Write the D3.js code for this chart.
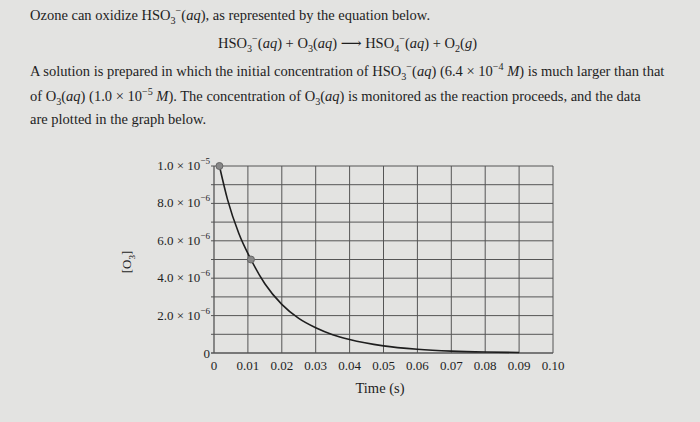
<!DOCTYPE html>
<html>
<head>
<meta charset="utf-8">
<script src="https://cdn.jsdelivr.net/npm/d3@7"></script>
<style>
  body { margin:0; background:#e3e3e1; }
  svg { font-family:"Liberation Serif", "DejaVu Serif", serif; }
</style>
</head>
<body>
<svg id="chart" width="700" height="422"></svg>
<script>
// data (time in s, [O3] in M)
const times = [0.0016, 0.004, 0.0073, 0.0109, 0.015, 0.02, 0.025, 0.03, 0.035, 0.04, 0.05, 0.06, 0.07, 0.08, 0.09];
const conc  = [10e-6, 8.2e-6, 6.4e-6, 5.0e-6, 3.7e-6, 2.6e-6, 1.85e-6, 1.35e-6, 0.98e-6, 0.72e-6, 0.38e-6, 0.2e-6, 0.1e-6, 0.05e-6, 0.03e-6];
const markedPoints = [0, 3]; // indices with circle markers
const xTicks = [0, 0.01, 0.02, 0.03, 0.04, 0.05, 0.06, 0.07, 0.08, 0.09, 0.10];
const yGrid = d3.range(0, 11).map(d => d * 1e-6);
const yLabels = [[2e-6, "2.0", "−6"], [4e-6, "4.0", "−6"], [6e-6, "6.0", "−6"], [8e-6, "8.0", "−6"], [10e-6, "1.0", "−5"]];

const svg = d3.select("#chart");
const ink = "#1e1e1e";

//text helper: parts = [text, kind] with kind "" / "sub" / "sup" / "i"
function rich(x, y, parts, anchor, size){
    size = size || 14.5;
    const t = svg.append("text").attr("x", x).attr("y", y)
        .attr("font-size", size).attr("fill", ink).attr("text-anchor", anchor || "start");
    let off = 0; // current baseline shift
    parts.forEach(([s, k]) => {
        const target = k == "sub" ? 4 : k == "sup" ? -6 : 0;
        const sp = t.append("tspan").text(s).attr("dy", target - off);
        off = target;
        if(k == "sub" || k == "sup") sp.attr("font-size", size * 0.7);
        if(k == "i") sp.attr("font-style", "italic");
    });
    return t;
}

rich(30, 20, [["Ozone can oxidize HSO",""],["3","sub"],["−","sup"],["(",""],["aq","i"],["), as represented by the equation below.",""]]);
rich(218, 48, [["HSO",""],["3","sub"],["−","sup"],["(",""],["aq","i"],[") + O",""],["3","sub"],["(",""],["aq","i"],[")  ⟶  HSO",""],["4","sub"],["−","sup"],["(",""],["aq","i"],[") + O",""],["2","sub"],["(",""],["g","i"],[")",""]]);
rich(30, 76, [["A solution is prepared in which the initial concentration of HSO",""],["3","sub"],["−","sup"],["(",""],["aq","i"],[") (6.4 × 10",""],["−4","sup"],[" M","i"],[") is much larger than that",""]]);
rich(30, 101, [["of O",""],["3","sub"],["(",""],["aq","i"],[") (1.0 × 10",""],["−5","sup"],[" M","i"],["). The concentration of O",""],["3","sub"],["(",""],["aq","i"],[") is monitored as the reaction proceeds, and the data",""]]);
rich(30, 124, [["are plotted in the graph below.",""]]);

const x = d3.scaleLinear().domain([0, 0.10]).range([214, 553]);
const y = d3.scaleLinear().domain([0, 10e-6]).range([353, 166]);

const g = svg.append("g");
g.selectAll("line.v").data(xTicks).join("line")
    .attr("x1", d => x(d)).attr("x2", d => x(d))
    .attr("y1", y(0)).attr("y2", y(10e-6))
    .attr("stroke", "#555").attr("stroke-width", d => d == 0 ? 1.3 : 1);
g.selectAll("line.h").data(yGrid).join("line")
    .attr("x1", x(0) - 3).attr("x2", x(0.10))
    .attr("y1", d => y(d)).attr("y2", d => y(d))
    .attr("stroke", "#555").attr("stroke-width", d => d == 0 ? 1.3 : 1);

// curve
g.append("path")
    .datum(times.map((t, i) => [t, conc[i]]))
    .attr("d", d3.line().x(d => x(d[0])).y(d => y(d[1])).curve(d3.curveMonotoneX))
    .attr("fill", "none").attr("stroke", ink).attr("stroke-width", 1.6);
g.selectAll("circle").data(markedPoints).join("circle")
    .attr("cx", i => x(times[i])).attr("cy", i => y(conc[i])).attr("r", 3.5)
    .attr("fill", "#888").attr("stroke", "#666");

// tick labels
svg.selectAll("text.xt").data(xTicks).join("text")
    .attr("x", d => x(d)).attr("y", 370).attr("text-anchor", "middle")
    .attr("font-size", 13).attr("fill", ink)
    .text(d => d == 0 ? "0" : d.toFixed(2));
rich(x(0) - 4, y(0) + 5, [["0",""]], "end", 13);
yLabels.forEach(([v, m, e]) => {
    rich(x(0) - 4, y(v) + 4, [[m + " × 10",""],[e,"sup"]], "end", 13);
});

rich(380, 393, [["Time (s)",""]], "middle");
rich(0, 0, [["[O",""],["3","sub"],["]",""]], "middle", 13)
    .attr("transform", "translate(131,262) rotate(-90)");
</script>
</body>
</html>
